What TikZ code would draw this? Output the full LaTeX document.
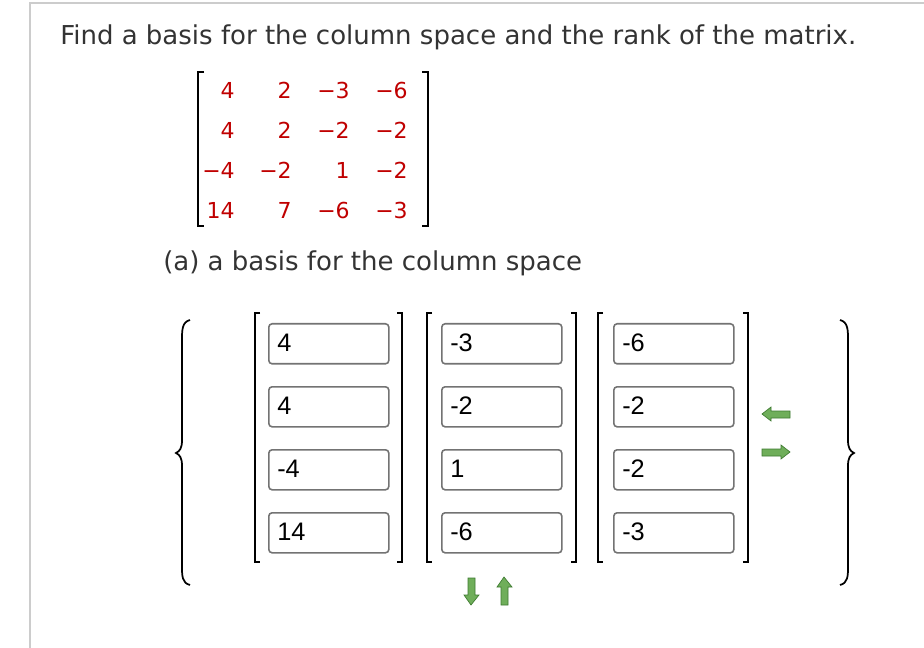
\documentclass[tikz,border=0pt]{standalone}
\usepackage{fontspec}
\setmainfont{DejaVu Sans}
\newfontfamily\arial{Liberation Sans}
\definecolor{txt}{HTML}{333333}
\definecolor{red}{HTML}{C00000}
\definecolor{gr}{HTML}{6FAE5A}
\definecolor{grd}{HTML}{3E7A30}
\begin{document}
\begin{tikzpicture}[x=0.75pt,y=-0.75pt,
  ent/.style={anchor=east,text=red,font=\fontsize{16.5}{18}\selectfont,inner sep=0},
  ibox/.style={draw=black!55,line width=1.2pt,rounded corners=2.5pt,minimum width=90pt,minimum height=30pt,anchor=north west,inner sep=0},
  ival/.style={anchor=west,font=\arial\fontsize{19}{20}\selectfont,inner sep=0},
  brk/.style={line width=1.3pt},
  garrow/.style={fill=gr,draw=grd,line width=0.5pt}]
\useasboundingbox (0,0) rectangle (924,648);
\fill[white] (0,0) rectangle (924,648);
\draw[black!20,line width=1.5pt] (30,648) -- (30,3) -- (924,3);
\node[anchor=west,text=txt,font=\fontsize{19.5}{22}\selectfont,inner sep=0] (title) at (60,37) {Find a basis for the column space and the rank of the matrix.};
% matrix
\draw[line width=1.2pt] (204,72) -- (198,72) -- (198,226) -- (204,226);
\draw[line width=1.2pt] (422,72) -- (428,72) -- (428,226) -- (422,226);
\foreach \r/\y in {{{4},{2},{−3},{−6}}/90,{{4},{2},{−2},{−2}}/130,{{−4},{−2},{1},{−2}}/170,{{14},{7},{−6},{−3}}/210}{
  \foreach \v [count=\c] in \r {
    \pgfmathsetmacro\xx{ifthenelse(\c==1,235,ifthenelse(\c==2,292,ifthenelse(\c==3,350,408)))}
    \node[ent] (m\c\y) at (\xx,\y) {\v};
  }
}
\node[anchor=west,text=txt,font=\fontsize{19.5}{22}\selectfont,inner sep=0] (parta) at (163,263) {(a) a basis for the column space};
% braces
\draw[line width=1.3pt] (190,320) .. controls (182,322) and (182,330) .. (182,340) -- (182,440) .. controls (182,448) and (180,451) .. (176,453) .. controls (180,455) and (182,458) .. (182,466) -- (182,566) .. controls (182,576) and (182,583) .. (190,585);
\draw[line width=1.3pt] (840,320) .. controls (848,322) and (848,330) .. (848,340) -- (848,440) .. controls (848,448) and (850,451) .. (854,453) .. controls (850,455) and (848,458) .. (848,466) -- (848,566) .. controls (848,576) and (848,583) .. (840,585);
% column vectors
\foreach \bx/\ex/\k in {255/402/1,427/576/2,598/748/3}{
  \draw[brk] (\bx+5,313) -- (\bx,313) -- (\bx,562) -- (\bx+5,562);
  \draw[brk] (\ex-5,313) -- (\ex,313) -- (\ex,562) -- (\ex-5,562);
}
\foreach \col/\x in {{{4},{4},{-4},{14}}/268,{{-3},{-2},{1},{-6}}/441,{{-6},{-2},{-2},{-3}}/613}{
  \foreach \v [count=\r] in \col {
    \pgfmathsetmacro\yy{323+63*(\r-1)}
    \node[ibox] (b\x\r) at (\x,\yy) {};
    \node[ival] (v\x\r) at (\x+9,\yy+20) {\v};
  }
}
% green arrows
\draw[garrow] (762,414) -- (771,407) -- (771,411) -- (790,411) -- (790,418) -- (771,418) -- (771,421) -- cycle;
\draw[garrow] (790,452) -- (781,445) -- (781,449) -- (762,449) -- (762,456) -- (781,456) -- (781,459) -- cycle;
\draw[garrow] (471,605) -- (464,595) -- (468,595) -- (468,578) -- (475,578) -- (475,595) -- (479,595) -- cycle;
\draw[garrow] (504,577) -- (497,587) -- (501,587) -- (501,605) -- (508,605) -- (508,587) -- (512,587) -- cycle;
\end{tikzpicture}
\end{document}
